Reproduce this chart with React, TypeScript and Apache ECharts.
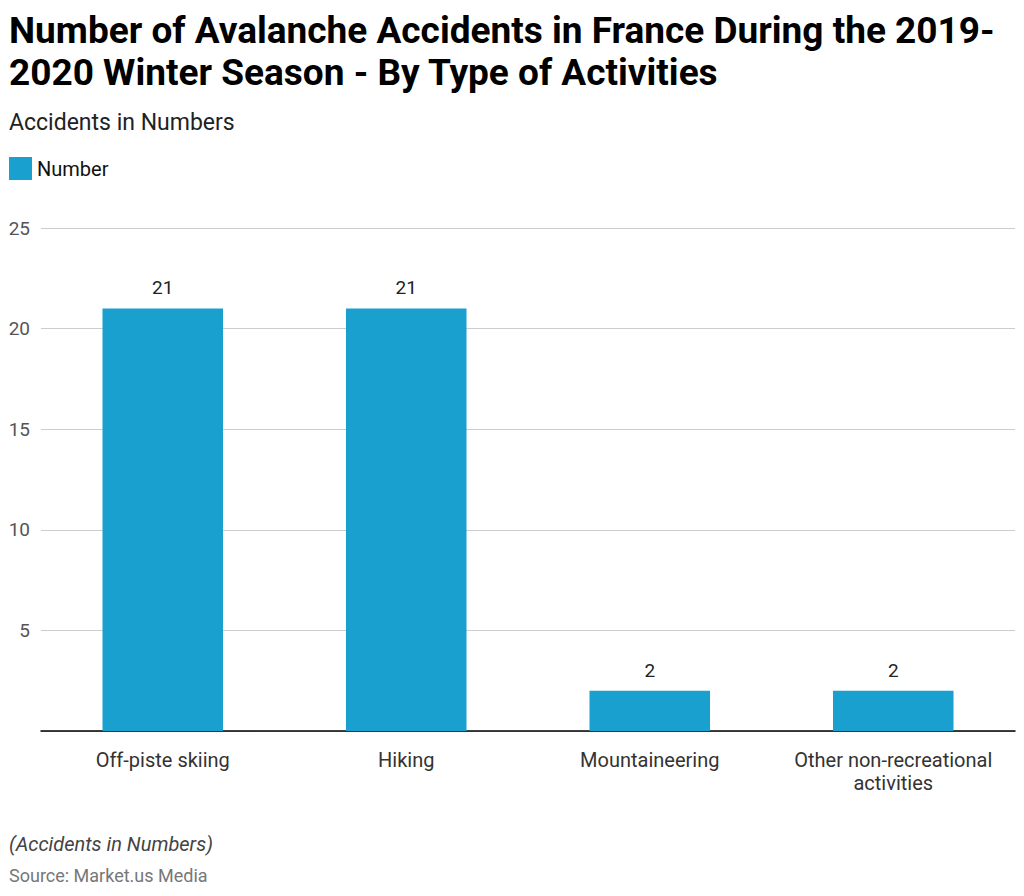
import React, { useEffect, useRef } from "react";
import * as echarts from "echarts";

const categories = ["Off-piste skiing", "Hiking", "Mountaineering", "Other non-recreational\nactivities"];
const values = [21, 21, 2, 2];
const seriesName = "Number";
const titleText = "Number of Avalanche Accidents in France During the 2019-\n2020 Winter Season - By Type of Activities";
const subtitleText = "Accidents in Numbers";
const footnoteText = "(Accidents in Numbers)";
const sourceText = "Source: Market.us Media";

export default function App() {
  const ref = useRef<HTMLDivElement>(null);
  useEffect(() => {
    if (!ref.current) return;
    const chart = echarts.init(ref.current, undefined, { renderer: "svg" });
    chart.setOption({
      animation: false,
      textStyle: { fontFamily: "Roboto" },
      title: [
        {
          text: titleText,
          left: 9,
          top: 9,
          padding: 0,
          textStyle: { fontFamily: "Roboto", fontSize: 37, fontWeight: "bold", color: "#000", lineHeight: 42 },
        },
        {
          text: subtitleText,
          left: 9,
          top: 111,
          padding: 0,
          textStyle: { fontFamily: "Roboto", fontSize: 23, fontWeight: "normal", color: "#222" },
        },
        {
          text: footnoteText,
          left: 9,
          top: 834,
          padding: 0,
          textStyle: { fontFamily: "Roboto", fontSize: 20, fontStyle: "italic", fontWeight: "normal", color: "#444" },
        },
        {
          text: sourceText,
          left: 9,
          top: 866,
          padding: 0,
          textStyle: { fontFamily: "Roboto", fontSize: 18, fontWeight: "normal", color: "#777" },
        },
      ],
      legend: {
        left: 9,
        top: 157,
        padding: 0,
        itemWidth: 23,
        itemHeight: 23,
        itemGap: 10,
        icon: "rect",
        textStyle: { fontFamily: "Roboto", fontSize: 20, color: "#111" },
        data: [seriesName],
      },
      grid: { left: 41, right: 9, top: 228, bottom: 165, containLabel: false },
      xAxis: {
        type: "category",
        data: categories,
        axisLine: { lineStyle: { color: "#000", width: 1.5 } },
        axisTick: { alignWithLabel: true, length: 6, lineStyle: { color: "#000" } },
        axisLabel: { fontFamily: "Roboto", fontSize: 20, color: "#333", margin: 17, lineHeight: 23, interval: 0 },
      },
      yAxis: {
        type: "value",
        min: 0,
        max: 25,
        interval: 5,
        axisLine: { show: false },
        axisTick: { show: false },
        splitLine: { lineStyle: { color: "#cccccc", width: 1 } },
        axisLabel: {
          fontFamily: "Roboto",
          fontSize: 19,
          color: "#555",
          margin: 11,
          formatter: (v: number) => (v === 0 ? "" : String(v)),
        },
      },
      series: [
        {
          name: seriesName,
          type: "bar",
          data: values,
          barWidth: "49.5%",
          itemStyle: { color: "#1aa0cf" },
          label: {
            show: true,
            position: "top",
            distance: 11,
            fontFamily: "Roboto",
            fontSize: 19,
            color: "#222",
          },
        },
      ],
    });
    return () => chart.dispose();
  }, []);
  return <div ref={ref} style={{ position: "fixed", left: 0, top: 0, width: 1024, height: 896, background: "#fff" }} />;
}
